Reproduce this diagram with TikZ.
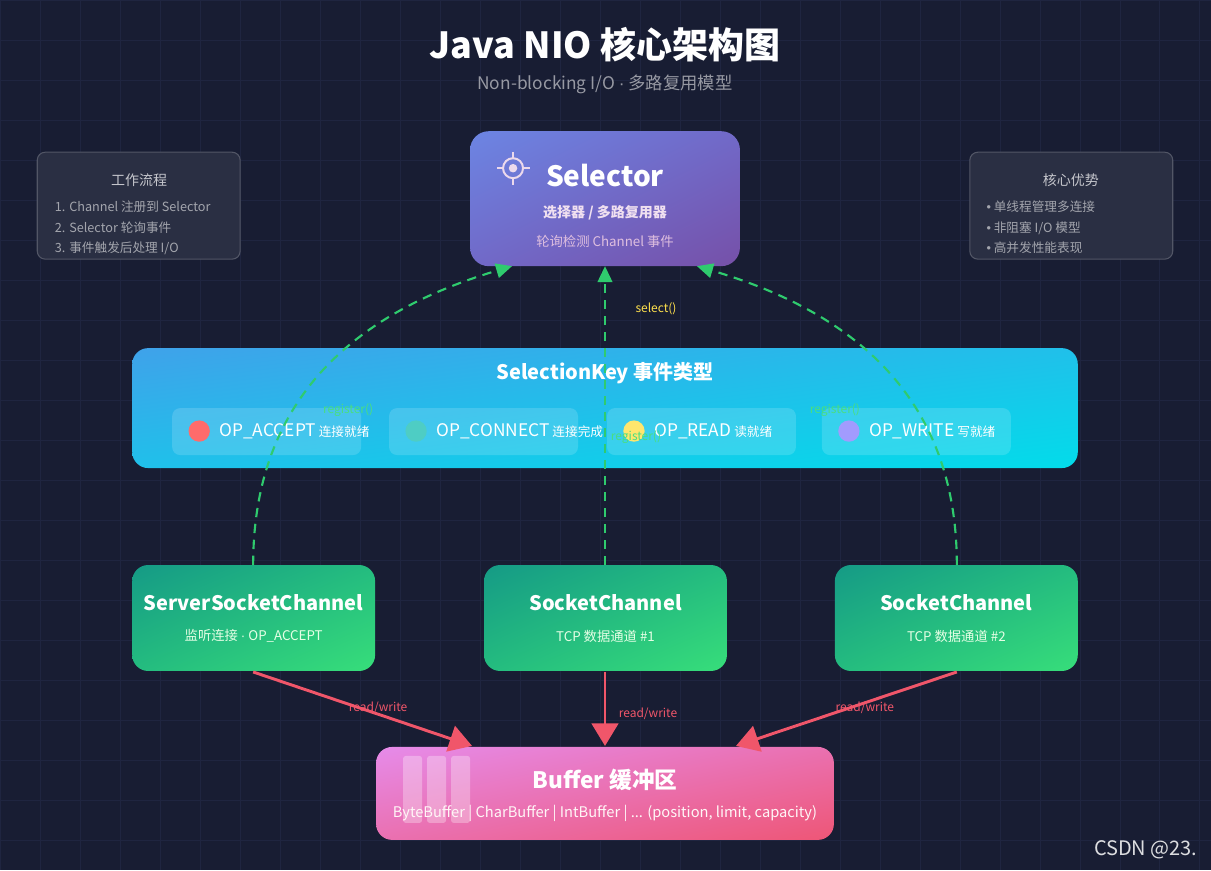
\documentclass[tikz,border=0pt]{standalone}
\usepackage{fontspec}
\setmainfont{Noto Sans CJK SC}
\newfontfamily\lat{Liberation Sans}
\usetikzlibrary{arrows.meta,shadings}
\definecolor{bg}{HTML}{181D33}
\definecolor{gridc}{HTML}{1F2540}
\definecolor{grn}{HTML}{2FCB6E}
\definecolor{lg}{HTML}{4ADE80}
\definecolor{rd}{HTML}{F0566A}
\definecolor{yl}{HTML}{FFE14D}
\definecolor{s1}{HTML}{6C85E3}\definecolor{s2}{HTML}{7650A8}\definecolor{s3}{HTML}{7169C8}
\definecolor{k1}{HTML}{3FA2EA}\definecolor{k2}{HTML}{02DCEA}\definecolor{k3}{HTML}{20C0EA}
\definecolor{g1}{HTML}{159A86}\definecolor{g2}{HTML}{37DE7A}\definecolor{g3}{HTML}{24BC7F}
\definecolor{p1}{HTML}{E68BEA}\definecolor{p2}{HTML}{EE5676}\definecolor{p3}{HTML}{EA70B0}
\definecolor{dA}{HTML}{FF6B6B}\definecolor{dB}{HTML}{4ECDC4}\definecolor{dC}{HTML}{FFE66D}\definecolor{dD}{HTML}{A29BFE}
\begin{document}
\begin{tikzpicture}[x=0.75pt,y=-0.75pt,
  info/.style={draw=white!25!bg,fill=white!8!bg,rounded corners=6pt,line width=0.8pt},
  pill/.style={fill=white,fill opacity=0.15,rounded corners=6pt},
  dsh/.style={draw=grn,dash pattern=on 7pt off 5pt,line width=1.6pt,-{Triangle[length=12pt,width=11pt]}},
  rw/.style={draw=rd,line width=2.2pt,-{Triangle[length=17pt,width=20pt]}},
  lab/.style={font=\fontsize{9}{10}\selectfont},
  wt/.style={text=white}]
\fill[bg] (0,0) rectangle (1211,870);
\foreach \i in {0,40,...,1200} {\draw[gridc,line width=0.4pt] (\i,0)--(\i,870);}
\foreach \i in {0,40,...,860} {\draw[gridc,line width=0.4pt] (0,\i)--(1211,\i);}
\useasboundingbox (0,0) rectangle (1211,870);
% title
\node[wt,font=\fontsize{27}{30}\selectfont\bfseries] (title) at (605,44) {Java NIO 核心架构图};
\node[text=white!55!bg,font=\fontsize{13}{15}\selectfont] (sub) at (605,84) {Non-blocking I/O {\lat·} 多路复用模型};
% info boxes
\draw[info] (37,152) rectangle (240,259);
\node[text=white!75!bg,font=\fontsize{10.5}{12}\selectfont] (it1) at (139,180) {工作流程};
\node[text=white!60!bg,font=\fontsize{9.5}{11}\selectfont,anchor=west] (i1) at (50,207) {1. Channel 注册到 Selector};
\node[text=white!60!bg,font=\fontsize{9.5}{11}\selectfont,anchor=west] (i2) at (50,228) {2. Selector 轮询事件};
\node[text=white!60!bg,font=\fontsize{9.5}{11}\selectfont,anchor=west] (i3) at (50,248) {3. 事件触发后处理 I/O};
\draw[info] (970,152) rectangle (1173,259);
\node[text=white!75!bg,font=\fontsize{10.5}{12}\selectfont] (it2) at (1071,180) {核心优势};
\node[text=white!60!bg,font=\fontsize{9.5}{11}\selectfont,anchor=west] (j1) at (982,207) {{\lat•} 单线程管理多连接};
\node[text=white!60!bg,font=\fontsize{9.5}{11}\selectfont,anchor=west] (j2) at (982,228) {{\lat•} 非阻塞 I/O 模型};
\node[text=white!60!bg,font=\fontsize{9.5}{11}\selectfont,anchor=west] (j3) at (982,248) {{\lat•} 高并发性能表现};
% Selector
\shade[rounded corners=14pt,upper left=s1,lower right=s2,upper right=s3,lower left=s3] (470,131) rectangle (740,266);
\coordinate (selB) at (605,266);
\draw[white!85!violet,line width=1.5pt] (513,168) circle (7.5pt);
\fill[white!85!violet] (513,168) circle (3.2pt);
\foreach \a in {0,90,180,270} \draw[white!85!violet,line width=1.5pt] (513,168) ++(\a:10.5) -- ++(\a:6);
\node[wt,font=\fontsize{21}{24}\selectfont\bfseries] (sel) at (605,175) {Selector};
\node[text=white!88!violet,font=\fontsize{10.5}{12}\selectfont\bfseries] (sel2) at (605,213) {选择器 / 多路复用器};
\node[text=white!75!violet,font=\fontsize{10}{12}\selectfont] (sel3) at (605,241) {轮询检测 Channel 事件};
% SelectionKey
\shade[rounded corners=12pt,upper left=k1,lower right=k2,upper right=k3,lower left=k3] (132,348) rectangle (1078,468);
\node[wt,font=\fontsize{15}{18}\selectfont\bfseries] (sk) at (605,373) {SelectionKey 事件类型};
\foreach \x/\c/\n/\l/\nm in {172/dA/OP\_ACCEPT/连接就绪/pa,389/dB/OP\_CONNECT/连接完成/pb,607/dC/OP\_READ/读就绪/pc,822/dD/OP\_WRITE/写就绪/pd}{
  \fill[pill] (\x,408) rectangle ++(189,47);
  \fill[\c] (\x+27,431) circle (8pt);
  \node[wt,anchor=west,inner sep=0pt] (\nm) at (\x+47,431) {\fontsize{13}{15}\selectfont\n\,\fontsize{9.5}{11}\selectfont\l};
}
% Channels
\foreach \x/\t/\s/\nm in {132/ServerSocketChannel/监听连接 {\lat·} OP\_ACCEPT/ca,484/SocketChannel/TCP 数据通道 \#1/cb,835/SocketChannel/TCP 数据通道 \#2/cc}{
  \shade[rounded corners=12pt,upper left=g1,lower right=g2,upper right=g3,lower left=g3] (\x,565) rectangle ++(243,106);
  \node[wt,font=\fontsize{15}{18}\selectfont\bfseries] (\nm) at (\x+121.5,603) {\t};
  \node[text=white!90!green,font=\fontsize{10}{12}\selectfont] (\nm s) at (\x+121.5,636) {\s};
}
\coordinate (caT) at (253,565); \coordinate (cbT) at (605,565); \coordinate (ccT) at (957,565);
\coordinate (caB) at (253,672); \coordinate (cbB) at (605,672); \coordinate (ccB) at (957,672);
% Buffer
\shade[rounded corners=12pt,upper left=p1,lower right=p2,upper right=p3,lower left=p3] (376,747) rectangle (834,840);
\foreach \x in {403,427,451} \fill[white,fill opacity=0.3,rounded corners=2pt] (\x,756) rectangle ++(19,67);
\node[wt,font=\fontsize{17}{20}\selectfont\bfseries] (buf) at (605,780) {Buffer 缓冲区};
\node[text=white!85!pink,font=\fontsize{11}{13}\selectfont] (buf2) at (605,813) {ByteBuffer | CharBuffer | IntBuffer | ... (position, limit, capacity)};
\coordinate (bL) at (472,746); \coordinate (bM) at (605,746); \coordinate (bR) at (736,746);
\coordinate (sL) at (512,266); \coordinate (sR) at (697,266);
% dashed arrows
\draw[dsh] (caT) .. controls (253,420) and (330,320) .. (sL);
\draw[dsh] (cbT) -- (selB);
\draw[dsh] (ccT) .. controls (957,420) and (880,320) .. (sR);
\node[lab,text=lg] (r1) at (348,410) {register()};
\node[lab,text=lg] (r2) at (636,437) {register()};
\node[lab,text=lg] (r3) at (835,410) {register()};
\node[lab,text=yl] (slc) at (656,309) {select()};
% red arrows
\draw[rw] (caB) -- (bL);
\draw[rw] (cbB) -- (bM);
\draw[rw] (ccB) -- (bR);
\node[lab,text=rd] (w1) at (378,708) {read/write};
\node[lab,text=rd] (w2) at (648,714) {read/write};
\node[lab,text=rd] (w3) at (865,708) {read/write};
\node[text=white!85!bg,font=\fontsize{15}{18}\selectfont] (csdn) at (1146,850) {CSDN @23.};
\end{tikzpicture}
\end{document}
